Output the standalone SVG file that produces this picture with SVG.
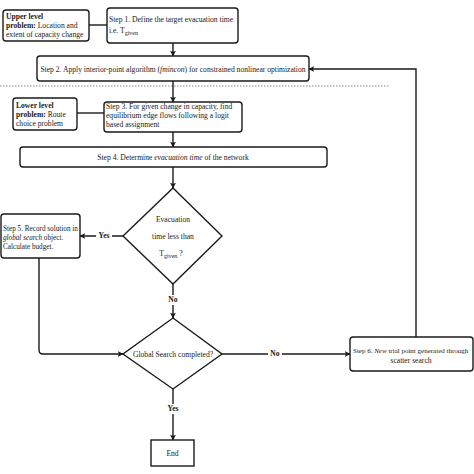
<svg xmlns="http://www.w3.org/2000/svg" width="474" height="474" viewBox="0 0 474 474">
<style>
.box{fill:#fff;stroke:#1a1a1a;stroke-width:1.4}
.ln{fill:none;stroke:#1a1a1a;stroke-width:1.4}
text{font-family:"Liberation Serif","Times New Roman",serif;font-size:7.6px;fill:#1a1a1a}
.c{text-anchor:middle}
.b{font-weight:bold}
.sm{font-size:7.2px}
.s6{font-size:7px}
.sub{font-size:6px}
.lbl{font-weight:bold;text-anchor:middle;dominant-baseline:middle}
</style>
<defs>
<marker id="ah" viewBox="0 0 10 10" refX="9" refY="5" markerWidth="6" markerHeight="6" orient="auto" markerUnits="userSpaceOnUse">
<path d="M0,0 L10,5 L0,10 L2.5,5 Z" fill="#1a1a1a"/>
</marker>
</defs>
<rect width="474" height="474" fill="#fff"/>
<line x1="0" y1="86" x2="390" y2="86" stroke="#888" stroke-width="1" stroke-dasharray="1.5,1.5"/>
<g id="connectors">
<line class="ln" x1="89" y1="25" x2="107" y2="25"/>
<line class="ln" x1="77" y1="113" x2="104" y2="113"/>
<line class="ln" x1="173" y1="43" x2="173" y2="56" marker-end="url(#ah)"/>
<line class="ln" x1="173" y1="81" x2="173" y2="102" marker-end="url(#ah)"/>
<line class="ln" x1="173" y1="132" x2="173" y2="147" marker-end="url(#ah)"/>
<line class="ln" x1="173" y1="167" x2="173" y2="188" marker-end="url(#ah)"/>
<line class="ln" x1="123" y1="236" x2="80" y2="236" marker-end="url(#ah)"/>
<line class="ln" x1="173" y1="284" x2="173" y2="318" marker-end="url(#ah)"/>
<path class="ln" d="M39,258 V350 Q39,354 43,354 H123" marker-end="url(#ah)"/>
<line class="ln" x1="222" y1="354" x2="350" y2="354" marker-end="url(#ah)"/>
<line class="ln" x1="173" y1="389" x2="173" y2="440" marker-end="url(#ah)"/>
<path class="ln" d="M416,337 V69 H309" marker-end="url(#ah)"/>
<rect x="96" y="231" width="16" height="10" fill="#fff"/>
<text class="lbl" x="104" y="236.5">Yes</text>
<rect x="166" y="295" width="14" height="10" fill="#fff"/>
<text class="lbl" x="173" y="300.5">No</text>
<rect x="268" y="349" width="14" height="10" fill="#fff"/>
<text class="lbl" x="275" y="354.5">No</text>
<rect x="164" y="404" width="18" height="10" fill="#fff"/>
<text class="lbl" x="173" y="409.5">Yes</text>
</g>
<g id="upper">
<rect class="box" x="3" y="10" width="86" height="31" rx="3"/>
<text x="6" y="19"><tspan class="b">Upper level</tspan></text>
<text x="6" y="28"><tspan class="b">problem:</tspan> Location and</text>
<text x="6" y="37">extent of capacity change</text>
</g>
<g id="step1">
<rect class="box" x="107" y="8" width="131" height="35" rx="3"/>
<text x="109" y="22">Step 1. Define the target evacuation time</text>
<text x="109" y="33">i.e. T<tspan dy="2" class="sub">given</tspan></text>
</g>
<g id="step2">
<rect class="box" x="37" y="56" width="272" height="25" rx="3"/>
<text class="c" x="173" y="71.5">Step 2. Apply interior-point algorithm (<tspan font-style="italic">fmincon</tspan>) for constrained nonlinear optimization</text>
</g>
<g id="lower">
<rect class="box" x="13" y="98" width="64" height="32" rx="3"/>
<text x="16" y="108" class="b">Lower level</text>
<text x="16" y="117"><tspan class="b">problem:</tspan> Route</text>
<text x="16" y="126">choice problem</text>
</g>
<g id="step3">
<rect class="box" x="104" y="102" width="138" height="30" rx="3"/>
<text x="106" y="109">Step 3. For given change in capacity, find</text>
<text x="106" y="118">equilibrium edge flows following a logit</text>
<text x="106" y="127">based assignment</text>
</g>
<g id="step4">
<rect class="box" x="20" y="147" width="307" height="20" rx="3"/>
<text class="c" x="173" y="159.5">Step 4. Determine <tspan font-style="italic">evacuation time</tspan> of the network</text>
</g>
<g id="decision1">
<path class="box" d="M173,188 L222,236 L173,284 L123,236 Z"/>
<text class="c" x="173" y="222">Evacuation</text>
<text class="c" x="173" y="239">time less than</text>
<text class="c" x="171" y="256">T<tspan dy="2" class="sub">given</tspan><tspan dy="-2"> ?</tspan></text>
</g>
<g id="step5">
<rect class="box" x="1" y="214" width="79" height="44" rx="3"/>
<text x="3" y="231" class="sm">Step 5. Record solution in</text>
<text x="3" y="240" class="sm"><tspan font-style="italic">global search</tspan> object.</text>
<text x="3" y="249" class="sm">Calculate budget.</text>
</g>
<g id="decision2">
<path class="box" d="M173,318 L222,354 L173,389 L123,354 Z"/>
<text class="c" x="173" y="356.5">Global Search completed?</text>
</g>
<g id="step6">
<rect class="box" x="350" y="337" width="123" height="34" rx="3"/>
<text x="353" y="353" class="s6">Step 6. <tspan font-style="italic">New</tspan> trial point generated through</text>
<text class="c" x="411" y="362.5">scatter search</text>
</g>
<g id="end">
<rect class="box" x="151" y="440" width="43" height="26"/>
<text class="c" x="172.5" y="456">End</text>
</g>
</svg>
